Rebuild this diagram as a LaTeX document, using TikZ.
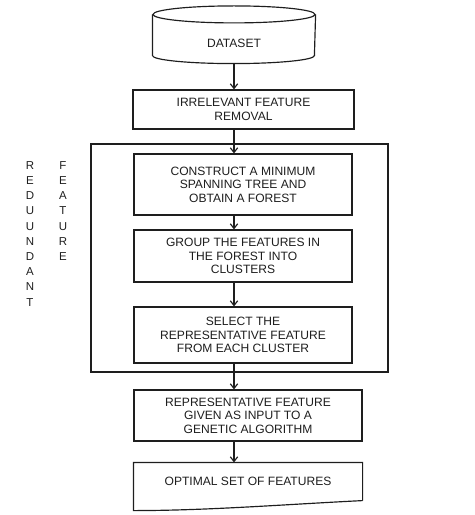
\documentclass[tikz,border=0pt]{standalone}
\usepackage{fontspec}
\setmainfont{Liberation Sans}
\usetikzlibrary{arrows.meta,positioning,calc}
\definecolor{inkline}{HTML}{1E1E1E}

\begin{document}
\begin{tikzpicture}[
  stepbox/.style={rectangle, draw=inkline, line width=1pt, minimum width=6.54cm, align=center, text=inkline, font=\fontsize{10.3}{11.6}\selectfont},
  vlbl/.style={anchor=north, inner sep=0pt, align=center, text=inkline, font=\fontsize{9.8}{13}\selectfont},
  arr/.style={-{Straight Barb[length=1.4mm, width=2.2mm]}, line width=1pt, inkline}
]
  \useasboundingbox (0,0) rectangle (14.22,-15.45);

  % dataset cylinder
  \node[stepbox, draw=none, minimum width=4.86cm, minimum height=1.2cm] (data) at (7.02,-1.29) {DATASET};
  \draw[line width=1pt, inkline] ([yshift=0.24cm]data.north west) -- ([yshift=0.24cm]data.south west)
    arc[start angle=180, end angle=360, x radius=2.43cm, y radius=0.24cm] -- ([yshift=0.24cm]data.north east);
  \draw[line width=1pt, inkline] ([yshift=0.24cm]data.north) ellipse[x radius=2.43cm, y radius=0.255cm];

  \node[stepbox, minimum width=6.63cm, minimum height=1.17cm] (irrel) at (7.305,-3.285) {IRRELEVANT FEATURE\\REMOVAL};

  % redundant feature removal block
  \node[stepbox, minimum width=8.91cm, minimum height=6.84cm] (redund) at (7.185,-7.74) {};
  \node[stepbox, minimum height=1.83cm] (mst) at (7.29,-5.535) {CONSTRUCT A MINIMUM\\SPANNING TREE AND\\OBTAIN A FOREST};
  \node[stepbox, minimum height=1.56cm] (group) at (7.29,-7.68) {GROUP THE FEATURES IN\\THE FOREST INTO\\CLUSTERS};
  \node[stepbox, minimum height=1.68cm] (select) at (7.29,-10.05) {SELECT THE\\REPRESENTATIVE FEATURE\\FROM EACH CLUSTER};
  \node[vlbl] (redlbl) at (0.9,-4.83) {R\\E\\D\\U\\U\\N\\D\\A\\N\\T};
  \node[vlbl] (featlbl) at (1.89,-4.83) {F\\E\\A\\T\\U\\R\\E};

  \node[stepbox, minimum width=6.84cm, minimum height=1.53cm] (repr) at (7.44,-12.465) {REPRESENTATIVE FEATURE\\GIVEN AS INPUT TO A\\GENETIC ALGORITHM};

  % output document shape
  \node[stepbox, draw=none, minimum width=6.84cm, minimum height=1.11cm] (opt) at (7.44,-14.445) {OPTIMAL SET OF FEATURES};
  \draw[line width=1pt, inkline] (opt.south east) -- (opt.north east) -- (opt.north west) -- ([yshift=-0.3cm]opt.south west)
    .. controls +(2.2,0) and +(-2.4,-0.12) .. (opt.south east);

  \draw[arr] (data.south) -- (data.south |- irrel.north);
  \draw[arr] (data.south |- irrel.south) -- (data.south |- mst.north);
  \draw[arr] (data.south |- mst.south) -- (data.south |- group.north);
  \draw[arr] (data.south |- group.south) -- (data.south |- select.north);
  \draw[arr] (data.south |- select.south) -- (data.south |- repr.north);
  \draw[arr] (data.south |- repr.south) -- (data.south |- opt.north);
\end{tikzpicture}
\end{document}
